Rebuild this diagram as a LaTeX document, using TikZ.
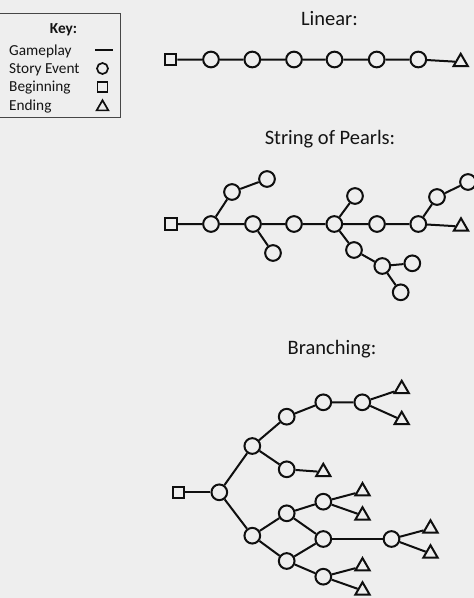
\documentclass[tikz,border=0pt]{standalone}
\usepackage{fontspec}
\setmainfont{Carlito}
\usetikzlibrary{shapes.geometric}
\definecolor{bg}{RGB}{238,238,238}
\definecolor{ink}{RGB}{15,15,15}
\definecolor{txt}{RGB}{20,20,20}
\definecolor{keyborder}{RGB}{70,70,70}
\tikzset{
  ev/.style={circle,draw=ink,fill=bg,line width=2pt,minimum size=15.7pt,inner sep=0pt},
  beg/.style={rectangle,draw=ink,fill=bg,line width=2pt,minimum size=11.6pt,inner sep=0pt},
  fin/.style={regular polygon,regular polygon sides=3,draw=ink,fill=bg,line width=2pt,minimum size=16.5pt,inner sep=0pt},
  kev/.style={circle,draw=ink,line width=1.7pt,minimum size=11pt,inner sep=0pt},
  kbeg/.style={rectangle,draw=ink,line width=1.7pt,minimum size=10pt,inner sep=0pt},
  kfin/.style={regular polygon,regular polygon sides=3,draw=ink,line width=1.7pt,minimum size=13.5pt,inner sep=0pt},
  play/.style={draw=ink,line width=2pt},
  title/.style={anchor=base,text=txt,font=\fontsize{20.5}{23}\selectfont,inner sep=0pt},
  keytxt/.style={anchor=base west,text=txt,font=\fontsize{15.3}{18}\selectfont,inner sep=0pt},
}
\begin{document}
\begin{tikzpicture}[x=1pt,y=-1pt]
\useasboundingbox (0,0) rectangle (474,598);
\fill[bg] (0,0) rectangle (474,598);

% ---------- Key ----------
\node[draw=keyborder,line width=1.3pt,minimum width=120.5pt,minimum height=104.3pt,inner sep=0pt,anchor=north west] (keybox) at (-1,12.7) {};
\node[anchor=base,text=txt,font=\fontsize{15.3}{18}\selectfont\bfseries,inner sep=0pt] (keyt) at (63.5,33.3) {Key:};
\node[keytxt] (kt1) at (9,55.5) {Gameplay};
\node[keytxt] (kt2) at (9,73.3) {Story Event};
\node[keytxt] (kt3) at (9,91.7) {Beginning};
\node[keytxt] (kt4) at (9,110) {Ending};
\coordinate (kl1) at (95,50);
\coordinate (kl2) at (113,50);
\draw[ink,line width=1.7pt] (kl1) -- (kl2);
\node[kev] (ks2) at (102.5,68.5) {};
\node[kbeg] (ks3) at (102.5,87) {};
\node[kfin] (ks4) at (102.5,107) {};

% ---------- Linear ----------
\node[title] (tlin) at (329.5,25) {Linear:};
\node[beg] (ls) at (170.5,59.5) {};
\node[ev] (l1) at (211,59.5) {};
\node[ev] (l2) at (252.3,59.5) {};
\node[ev] (l3) at (294,59.5) {};
\node[ev] (l4) at (334.5,59.5) {};
\node[ev] (l5) at (376.7,59.5) {};
\node[ev] (l6) at (418.3,59.5) {};
\node[fin] (le) at (460.7,62) {};
\draw[play] (ls) -- (l1) -- (l2) -- (l3) -- (l4) -- (l5) -- (l6) -- (le);

% ---------- String of Pearls ----------
\node[title] (tsop) at (330,144) {String of Pearls:};
\node[beg] (ss) at (171,224) {};
\node[ev] (s1) at (211,224) {};
\node[ev] (s2) at (253,224) {};
\node[ev] (s3) at (294,224) {};
\node[ev] (s4) at (334.3,224) {};
\node[ev] (s5) at (377,224) {};
\node[ev] (s6) at (418.3,224) {};
\node[fin] (se) at (461,226.5) {};
\node[ev] (a1) at (232,192) {};
\node[ev] (a2) at (267,179) {};
\node[ev] (b1) at (273,253) {};
\node[ev] (c1) at (355,196) {};
\node[ev] (d1) at (354,250) {};
\node[ev] (d2) at (382.3,266) {};
\node[ev] (d3) at (412.3,263.3) {};
\node[ev] (d4) at (400.7,292.3) {};
\node[ev] (e1) at (437,197) {};
\node[ev] (e2) at (468,182) {};
\draw[play] (ss) -- (s1) -- (s2) -- (s3) -- (s4) -- (s5) -- (s6) -- (se);
\draw[play] (s1) -- (a1) -- (a2);
\draw[play] (s2) -- (b1);
\draw[play] (s4) -- (c1);
\draw[play] (s4) -- (d1) -- (d2) -- (d3);
\draw[play] (d2) -- (d4);
\draw[play] (s6) -- (e1) -- (e2);

% ---------- Branching ----------
\node[title] (tbr) at (332,354) {Branching:};
\node[beg] (bs) at (178.3,492.3) {};
\node[ev] (n1) at (219.3,492.3) {};
\node[ev] (n2) at (252.3,446) {};
\node[ev] (n3) at (252.3,535.7) {};
\node[ev] (u1) at (286.7,416.7) {};
\node[ev] (u2) at (286.7,469.3) {};
\node[ev] (u3) at (323.3,402.3) {};
\node[ev] (u4) at (362.3,402.3) {};
\node[fin] (ta) at (401.7,389) {};
\node[fin] (tb) at (401.7,420) {};
\node[fin] (tc) at (323.3,472) {};
\node[ev] (m1) at (286.7,513.3) {};
\node[ev] (m2) at (286.7,561) {};
\node[ev] (p1) at (323.3,501.7) {};
\node[ev] (p2) at (323.3,539) {};
\node[ev] (p3) at (323.3,576.7) {};
\node[ev] (q1) at (391.5,539) {};
\node[fin] (td) at (362.5,491.3) {};
\node[fin] (te) at (362.5,515.5) {};
\node[fin] (tf) at (430.5,528.5) {};
\node[fin] (tg) at (430.5,553.5) {};
\node[fin] (th) at (362.5,566.3) {};
\node[fin] (ti) at (362.5,590.5) {};
\draw[play] (bs) -- (n1);
\draw[play] (n1) -- (n2);
\draw[play] (n1) -- (n3);
\draw[play] (n2) -- (u1) -- (u3) -- (u4);
\draw[play] (u4) -- (ta);
\draw[play] (u4) -- (tb);
\draw[play] (n2) -- (u2) -- (tc);
\draw[play] (n3) -- (m1);
\draw[play] (n3) -- (m2);
\draw[play] (m1) -- (p1);
\draw[play] (m1) -- (p2);
\draw[play] (m2) -- (p2);
\draw[play] (m2) -- (p3);
\draw[play] (p1) -- (td);
\draw[play] (p1) -- (te);
\draw[play] (p2) -- (q1);
\draw[play] (q1) -- (tf);
\draw[play] (q1) -- (tg);
\draw[play] (p3) -- (th);
\draw[play] (p3) -- (ti);
\end{tikzpicture}
\end{document}
